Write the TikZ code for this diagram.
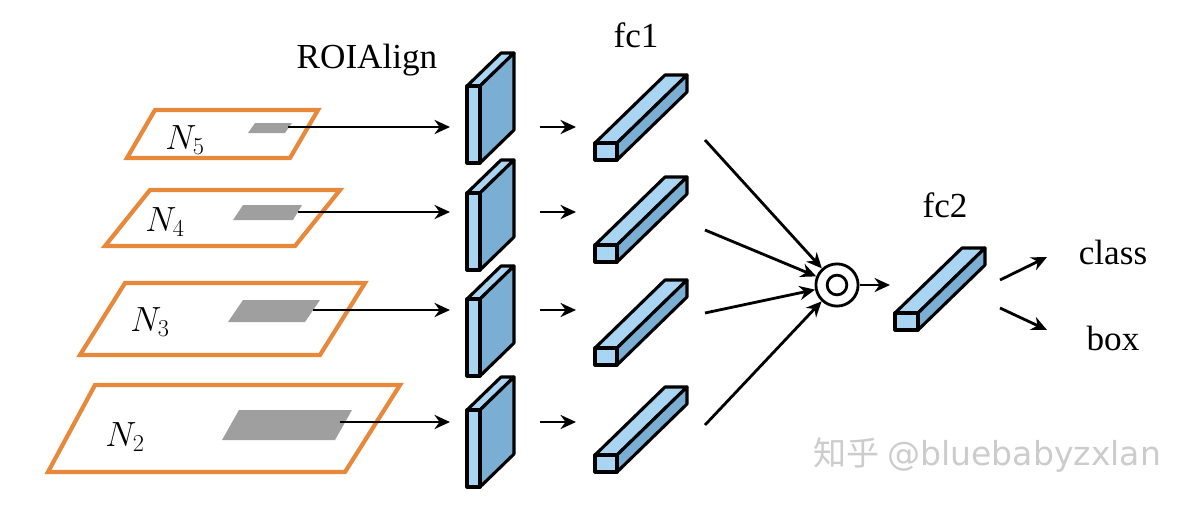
\documentclass[tikz,border=0pt]{standalone}
\usepackage{fontspec}
\setmainfont{Liberation Serif}
\newfontfamily\cjk{Noto Sans CJK SC}
\newfontfamily\wmark{DejaVu Sans}
\usetikzlibrary{arrows.meta, positioning}

\definecolor{plateorange}{HTML}{E8883A}
\definecolor{lightblue}{HTML}{A9D5F2}
\definecolor{darkblue}{HTML}{7BAED3}

\tikzset{
	layer/.style={line width=3pt, draw=plateorange},
	roi/.style={fill=gray!75, draw=none},
	link/.style={line width=2pt, -{Stealth[length=11pt,width=10pt]}},
	face/.style={draw=black, line width=2.2pt, line join=round, fill=lightblue},
	side/.style={face, fill=darkblue},
	lbl/.style={font=\fontsize{25}{28}\selectfont}
}

% 3D box: front corner x, y, width, height, depth dx, dy
\newcommand{\block}[6]{
	\filldraw[face] (#1,#2) -- ++(#3,0) -- ++(#5,#6) -- ++(-#3,0) -- cycle;
	\filldraw[side] (#1+#3,#2) -- ++(#5,#6) -- ++(0,#4) -- ++(-#5,-#6) -- cycle;
	\filldraw[face] (#1,#2) rectangle ++(#3,#4);
}

\begin{document}
\begin{tikzpicture}[x=0.025cm, y=-0.025cm]
		\useasboundingbox (0,0) rectangle (1190,506);

		% Pyramid levels
		\draw[layer] (127,158) -- (290,158) -- (318,110) -- (155,110) -- cycle;
		\draw[layer] (105,246) -- (295,246) -- (340,190) -- (150,190) -- cycle;
		\draw[layer] (80,355) -- (320,355) -- (365,283) -- (125,283) -- cycle;
		\draw[layer] (48,472) -- (345,472) -- (400,385) -- (95,385) -- cycle;
		\node[lbl] at (185,140) {$N_5$};
		\node[lbl] at (165,222) {$N_4$};
		\node[lbl] at (150,322) {$N_3$};
		\node[lbl] at (125,437) {$N_2$};

		% Regions of interest
		\fill[roi] (248,133) -- (285,133) -- (292,123) -- (255,123) -- cycle;
		\fill[roi] (233,220) -- (293,220) -- (302,205) -- (243,205) -- cycle;
		\fill[roi] (228,322) -- (305,322) -- (320,300) -- (243,300) -- cycle;
		\fill[roi] (222,440) -- (335,440) -- (352,410) -- (239,410) -- cycle;

		% ROIAlign features and fc1
		\foreach \i/\y/\py/\fy in {5/127/86/143, 4/212/193/245, 3/310/299/348, 2/422/410/455} {
			\block{467}{\py}{13}{77}{34}{-33}
			\block{595}{\fy}{22}{17}{70}{-68}
			\coordinate (r\i) at (450,\y);
			\coordinate (s\i) at (540,\y);
			\coordinate (t\i) at (576,\y);
			\draw[link] (s\i) -- (t\i);
		}
		\draw[link] (288,127) -- (r5);
		\draw[link] (298,212) -- (r4);
		\draw[link] (313,310) -- (r3);
		\draw[link] (340,422) -- (r2);

		% Fusion
		\node[circle, draw, line width=2pt, minimum size=30pt, inner sep=0pt] (fuse) at (837,285) {};
		\node[circle, draw, line width=2pt, minimum size=14pt, inner sep=0pt] at (fuse) {};
		\coordinate (f5) at (705,140);
		\coordinate (f4) at (705,230);
		\coordinate (f3) at (705,313);
		\coordinate (f2) at (705,425);
		\foreach \i in {5,4,3,2}
			\draw[link] (f\i) -- (fuse);

		% fc2 and outputs
		\coordinate (g) at (890,285);
		\draw[link] (fuse) -- (g);
		\block{895}{313}{23}{17}{67}{-65}
		\node[lbl] (cls) at (1113,252) {class};
		\node[lbl] (box) at (1113,338) {box};
		\draw[link] (1000,280) -- (1047,257);
		\draw[link] (1000,308) -- (1047,330);

		% Titles
		\node[lbl] at (367,60) {ROIAlign};
		\node[lbl] at (636,35) {fc1};
		\node[lbl] at (945,205) {fc2};
		\node[font=\fontsize{23.5}{28}\selectfont, text=gray!40] at (987,455) {{\cjk 知乎} {\wmark @bluebabyzxlan}};
	\end{tikzpicture}
\end{document}
